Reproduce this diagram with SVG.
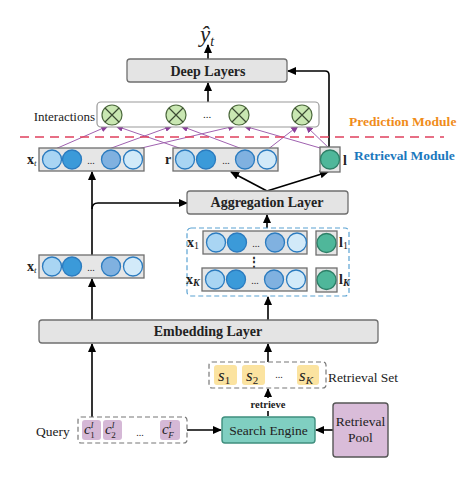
<svg xmlns="http://www.w3.org/2000/svg" width="474" height="477" viewBox="0 0 474 477">
<defs>
<marker id="ah" markerUnits="userSpaceOnUse" markerWidth="9" markerHeight="8" refX="8" refY="4" orient="auto"><path d="M0,0 L9,4 L0,8 z" fill="#000"/></marker>
<marker id="ap" markerUnits="userSpaceOnUse" markerWidth="8" markerHeight="7" refX="7" refY="3.5" orient="auto"><path d="M0,0 L8,3.5 L0,7 z" fill="#8a3f9a"/></marker>
<style>
.t{font-family:"Liberation Serif",serif;fill:#222}
.b{font-weight:bold}
.layer{fill:#e4e4e4;stroke:#6f6f6f;stroke-width:1.3}
.vb{fill:#e6e6e6;stroke:#6f6f6f;stroke-width:1.3}
.c1{fill:#a9d5f3;stroke:#2b7bbf;stroke-width:1.3}
.c2{fill:#3b9ad9;stroke:#2b7bbf;stroke-width:1.3}
.c3{fill:#80b1e0;stroke:#2b7bbf;stroke-width:1.3}
.c4{fill:#d2eaf9;stroke:#2b7bbf;stroke-width:1.3}
.cg{fill:#4fb79a;stroke:#2e7f67;stroke-width:1.3}
.ic{fill:#c9e7b2;stroke:#4d6a3d;stroke-width:1.2}
.ix{stroke:#3b4a33;stroke-width:1.2}
.e{fill:none;stroke:#000;stroke-width:1.6;marker-end:url(#ah)}
.p{fill:none;stroke:#a062b0;stroke-width:1;marker-end:url(#ap)}
.dash{fill:none;stroke:#777;stroke-width:1.2;stroke-dasharray:5,3}
</style>
</defs>

<!-- connectors -->
<g id="connectors">
<line class="e" x1="208" y1="59" x2="208" y2="45"/>
<line class="e" x1="208" y1="102" x2="208" y2="83"/>
<path class="e" d="M329,148 L329,75 Q329,71 325,71 L288,71"/>
<line class="e" x1="267" y1="191" x2="231" y2="172"/>
<line class="e" x1="267" y1="191" x2="328" y2="172"/>
<line class="e" x1="92" y1="255" x2="92" y2="172"/>
<path class="e" d="M92,209 Q92,203 98,203 L187,203"/>
<line class="e" x1="267" y1="228" x2="267" y2="215"/>
<line class="e" x1="92" y1="320" x2="92" y2="279"/>
<line class="e" x1="268" y1="320" x2="268" y2="297"/>
<line class="e" x1="92" y1="417" x2="92" y2="344"/>
<line class="e" x1="268" y1="362" x2="268" y2="344"/>
<line class="e" x1="268" y1="416" x2="268" y2="389"/>
<line class="e" x1="187" y1="430" x2="221" y2="430"/>
<line class="e" x1="333" y1="430" x2="316" y2="430"/>
<line class="p" x1="53" y1="150" x2="108" y2="126"/>
<line class="p" x1="185" y1="150" x2="116" y2="126"/>
<line class="p" x1="106" y1="150" x2="172" y2="126"/>
<line class="p" x1="245" y1="150" x2="181" y2="126"/>
<line class="p" x1="133" y1="150" x2="235" y2="126"/>
<line class="p" x1="327" y1="150" x2="244" y2="126"/>
<line class="p" x1="267" y1="150" x2="298" y2="126"/>
<line class="p" x1="331" y1="150" x2="306" y2="126"/>
<rect x="247" y="398" width="42" height="13" fill="#fff"/>
<text class="t b" x="268" y="408" font-size="10.5" text-anchor="middle">retrieve</text>
</g>

<!-- output -->
<g id="output">
<text class="t" x="200" y="42" font-size="23" font-style="italic">ŷ<tspan font-size="14" dy="4">t</tspan></text>
</g>

<g id="deep-layers">
<rect class="layer" x="127" y="59" width="160" height="23" rx="3"/>
<text class="t b" x="208" y="75.5" font-size="14" text-anchor="middle">Deep Layers</text>
</g>

<g id="interactions">
<rect x="97" y="102" width="222" height="25" rx="4" fill="#fff" stroke="#999" stroke-width="1.2"/>
<text class="t" x="95" y="121" font-size="13" text-anchor="end">Interactions</text>
<circle class="ic" cx="112" cy="115" r="10"/><path class="ix" d="M105,108 L119,122 M119,108 L105,122"/>
<circle class="ic" cx="176" cy="115" r="10"/><path class="ix" d="M169,108 L183,122 M183,108 L169,122"/>
<circle class="ic" cx="239" cy="115" r="10"/><path class="ix" d="M232,108 L246,122 M246,108 L232,122"/>
<circle class="ic" cx="302" cy="115" r="10"/><path class="ix" d="M295,108 L309,122 M309,108 L295,122"/>
<text class="t" x="207" y="118" font-size="11" text-anchor="middle">...</text>
</g>

<g id="module-divider">
<line x1="20" y1="137" x2="444" y2="137" stroke="#e0405e" stroke-width="1.4" stroke-dasharray="9,6"/>
<text class="t b" x="349" y="126" font-size="13.5" style="fill:#f08c1a">Prediction Module</text>
<text class="t b" x="354" y="160" font-size="13.5" style="fill:#1b78bd">Retrieval Module</text>
</g>

<g id="xt-top">
<rect class="vb" x="39" y="148" width="105" height="23"/>
<circle class="c1" cx="52" cy="159.5" r="9.5"/>
<circle class="c2" cx="72" cy="159.5" r="9.5"/>
<text class="t" x="91" y="164" font-size="10" text-anchor="middle">...</text>
<circle class="c3" cx="111" cy="159.5" r="9.5"/>
<circle class="c4" cx="133" cy="159.5" r="9.5"/>
<text class="t b" x="27" y="163.5" font-size="14">x<tspan font-size="9" font-style="italic" font-weight="normal" dy="2">t</tspan></text>
</g>

<g id="r-vec">
<rect class="vb" x="173" y="148" width="105" height="23"/>
<circle class="c1" cx="185" cy="159.5" r="9.5"/>
<circle class="c2" cx="206" cy="159.5" r="9.5"/>
<text class="t" x="226" y="164" font-size="10" text-anchor="middle">...</text>
<circle class="c3" cx="245" cy="159.5" r="9.5"/>
<circle class="c4" cx="267" cy="159.5" r="9.5"/>
<text class="t b" x="168" y="164" font-size="14" text-anchor="middle">r</text>
</g>

<g id="l-vec">
<rect class="vb" x="320" y="147" width="20" height="25"/>
<circle class="cg" cx="330" cy="159.5" r="9.5"/>
<text class="t b" x="343" y="164.5" font-size="14">l</text>
</g>

<g id="aggregation-layer">
<rect class="layer" x="187" y="191" width="161" height="23" rx="3"/>
<text class="t b" x="267" y="207" font-size="14" text-anchor="middle">Aggregation Layer</text>
</g>

<g id="xt-mid">
<rect class="vb" x="39" y="255" width="105" height="23"/>
<circle class="c1" cx="52" cy="266.5" r="9.5"/>
<circle class="c2" cx="72" cy="266.5" r="9.5"/>
<text class="t" x="91" y="271" font-size="10" text-anchor="middle">...</text>
<circle class="c3" cx="111" cy="266.5" r="9.5"/>
<circle class="c4" cx="133" cy="266.5" r="9.5"/>
<text class="t b" x="27" y="270.5" font-size="14">x<tspan font-size="9" font-style="italic" font-weight="normal" dy="2">t</tspan></text>
</g>

<g id="retrieved-set">
<rect x="187" y="228" width="162" height="68" rx="4" fill="none" stroke="#5aa2d2" stroke-width="1.2" stroke-dasharray="5,3"/>
<rect class="vb" x="203" y="231" width="104" height="23"/>
<circle class="c1" cx="216" cy="242.5" r="9.5"/>
<circle class="c2" cx="237" cy="242.5" r="9.5"/>
<text class="t" x="256" y="247" font-size="10" text-anchor="middle">...</text>
<circle class="c3" cx="275" cy="242.5" r="9.5"/>
<circle class="c4" cx="297" cy="242.5" r="9.5"/>
<text class="t b" x="187" y="247" font-size="14">x<tspan font-size="10" font-weight="normal" dy="2">1</tspan></text>
<rect class="vb" x="316" y="231" width="21" height="24"/>
<circle class="cg" cx="326.5" cy="243" r="9.5"/>
<text class="t b" x="339" y="247" font-size="14">l<tspan font-size="10" font-weight="normal" dy="2">1</tspan></text>
<text class="t b" x="254" y="266" font-size="12" text-anchor="middle">⋮</text>
<rect class="vb" x="202" y="268" width="105" height="23"/>
<circle class="c1" cx="215" cy="279.5" r="9.5"/>
<circle class="c2" cx="236" cy="279.5" r="9.5"/>
<text class="t" x="255" y="284" font-size="10" text-anchor="middle">...</text>
<circle class="c3" cx="274" cy="279.5" r="9.5"/>
<circle class="c4" cx="296" cy="279.5" r="9.5"/>
<text class="t b" x="186" y="284" font-size="14">x<tspan font-size="10" font-style="italic" dy="2">K</tspan></text>
<rect class="vb" x="316" y="268" width="21" height="24"/>
<circle class="cg" cx="326.5" cy="280" r="9.5"/>
<text class="t b" x="339" y="284" font-size="14">l<tspan font-size="10" font-style="italic" dy="2">K</tspan></text>
</g>

<g id="embedding-layer">
<rect class="layer" x="39" y="320" width="339" height="23" rx="3"/>
<text class="t b" x="208" y="336" font-size="14" text-anchor="middle">Embedding Layer</text>
</g>

<g id="retrieval-set">
<rect class="dash" x="209" y="362" width="117" height="26" rx="3"/>
<rect x="214" y="365" width="23" height="20" rx="3" fill="#fbe3a0"/>
<rect x="242" y="365" width="23" height="20" rx="3" fill="#fbe3a0"/>
<rect x="297" y="365" width="22" height="20" rx="3" fill="#fbe3a0"/>
<text class="t" x="218" y="381" font-size="17" font-style="italic">s<tspan font-size="11" font-style="normal" dy="3">1</tspan></text>
<text class="t" x="246" y="381" font-size="17" font-style="italic">s<tspan font-size="11" font-style="normal" dy="3">2</tspan></text>
<text class="t" x="279" y="378" font-size="10" text-anchor="middle">...</text>
<text class="t" x="299" y="381" font-size="17" font-style="italic">s<tspan font-size="11" dy="3">K</tspan></text>
<text class="t" x="328" y="382" font-size="13.5">Retrieval Set</text>
</g>

<g id="query">
<text class="t" x="36" y="436" font-size="13.5">Query</text>
<rect class="dash" x="78" y="417" width="109" height="26" rx="3"/>
<rect x="82" y="420" width="19" height="20" rx="3" fill="#d5b8d6"/>
<rect x="103" y="420" width="19" height="20" rx="3" fill="#d5b8d6"/>
<rect x="160" y="420" width="20" height="20" rx="3" fill="#d5b8d6"/>
<text class="t" x="84" y="434" font-size="15" font-style="italic">c<tspan font-size="8" dy="-6">I</tspan><tspan font-size="9" font-style="normal" dx="-3" dy="10">1</tspan></text>
<text class="t" x="105" y="434" font-size="15" font-style="italic">c<tspan font-size="8" dy="-6">I</tspan><tspan font-size="9" font-style="normal" dx="-3" dy="10">2</tspan></text>
<text class="t" x="140" y="436" font-size="10" text-anchor="middle">...</text>
<text class="t" x="162" y="434" font-size="15" font-style="italic">c<tspan font-size="8" dy="-6">I</tspan><tspan font-size="9" dx="-3" dy="10">F</tspan></text>
</g>

<g id="search-engine">
<rect x="222" y="417" width="93" height="26" rx="3" fill="#80cfc1" stroke="#3f8f7e" stroke-width="1.4"/>
<text class="t" x="268.5" y="434.5" font-size="13.5" text-anchor="middle">Search Engine</text>
</g>

<g id="retrieval-pool">
<rect x="333" y="403" width="55" height="54" rx="3" fill="#d9bcd9" stroke="#555" stroke-width="1.4"/>
<text class="t" x="360.5" y="426" font-size="13.5" text-anchor="middle">Retrieval</text>
<text class="t" x="360.5" y="442" font-size="13.5" text-anchor="middle">Pool</text>
</g>
</svg>
